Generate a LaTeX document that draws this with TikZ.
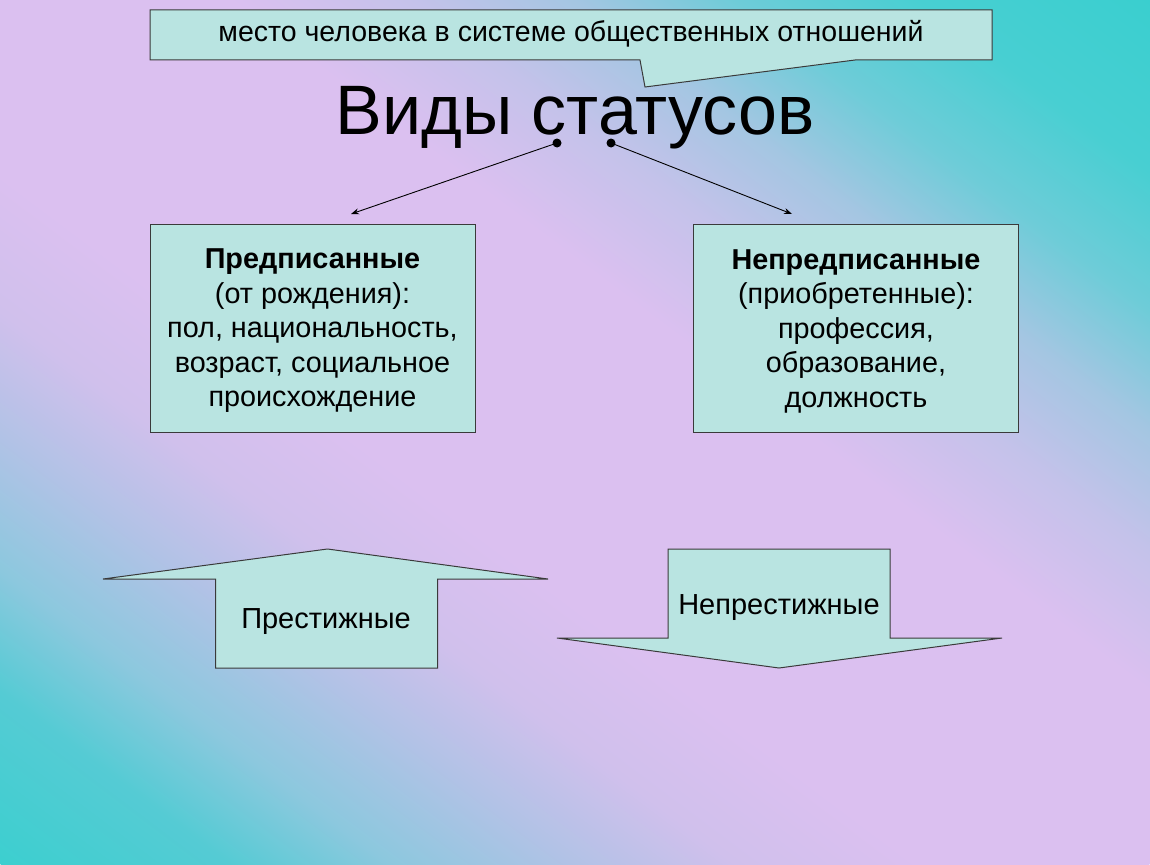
\documentclass[tikz,border=0pt]{standalone}
\usepackage{fontspec}
\setmainfont{Liberation Sans}
\usetikzlibrary{arrows.meta}
\definecolor{boxfill}{HTML}{B9E4E1}
\definecolor{edgecol}{HTML}{3A3A3A}
\definecolor{bga}{HTML}{3CCFCF}
\definecolor{bgb}{HTML}{55CBD4}
\definecolor{bgc}{HTML}{8CC8DE}
\definecolor{bgd}{HTML}{B2C2E6}
\definecolor{bge}{HTML}{D0C0EC}
\definecolor{bgf}{HTML}{DBC0F0}
\definecolor{bgg}{HTML}{C4C2EA}
\definecolor{bgh}{HTML}{A4C6E2}
\definecolor{bgi}{HTML}{6ECCD8}
\definecolor{bgj}{HTML}{48CFD2}
\definecolor{bgk}{HTML}{3ACFCF}
\pgfdeclarehorizontalshading{bgshade}{100bp}{color(0bp)=(bga); color(25bp)=(bga); color(30bp)=(bgb); color(33.5bp)=(bgc); color(37.5bp)=(bgd); color(41bp)=(bge); color(45bp)=(bgf); color(55bp)=(bgf); color(59bp)=(bgg); color(62.5bp)=(bgh); color(66bp)=(bgi); color(70bp)=(bgj); color(75bp)=(bgk); color(100bp)=(bgk)}
\tikzset{
  shapefill/.style={fill=boxfill, draw=edgecol, line width=1pt},
  statbox/.style={shapefill, rectangle, inner sep=0pt, minimum width=325, minimum height=208},
  bodytext/.style={font=\fontsize{28.8}{34.5}\selectfont, align=center, inner sep=0pt},
  labeltext/.style={anchor=base, inner sep=0pt, font=\fontsize{29}{34}\selectfont},
  conn/.style={line width=0.9pt, -{Stealth[length=8pt,width=6pt]}},
}
\begin{document}
\begin{tikzpicture}[x=1pt,y=-1pt]
\useasboundingbox (0,0) rectangle (1150,864);
\begin{scope}
  \clip (0,0) rectangle (1150,864);
  \begin{scope}[transform canvas={cm={11.5,8.64,11.5,-8.64,(-575pt,-432pt)}}]
    \shade[shading=bgshade] (0pt,0pt) rectangle (100pt,100pt);
  \end{scope}
\end{scope}

% callout
\draw[shapefill] (150,10) -- (992,10) -- (992,60) -- (855,60) -- (645,87) -- (640,60) -- (150,60) -- cycle;
\node[anchor=base, inner sep=0pt, font=\fontsize{28.5}{34}\selectfont] (callout) at (571,42) {место человека в системе общественных отношений};

% title
\node[anchor=base, inner sep=0pt, font=\fontsize{70}{84}\selectfont] (title) at (575,135) {Виды статусов};
\coordinate (d1) at (557,143);
\coordinate (d2) at (611,143);
\coordinate (e1) at (351,214);
\coordinate (e2) at (792,214);
\fill (d1) circle (4.5);
\fill (d2) circle (4.5);
\draw[conn] (d1) -- (e1);
\draw[conn] (d2) -- (e2);

% boxes
\node[statbox] (left) at (312.5,328) {};
\node[bodytext] (lefttext) at (312.5,331) {\textbf{Предписанные}\\(от рождения):\\пол, национальность,\\возраст, социальное\\происхождение};
\node[statbox] (right) at (856,328) {};
\node[bodytext] (righttext) at (856,331) {\textbf{Непредписанные}\\(приобретенные):\\профессия,\\образование,\\должность};

% block arrows
\draw[shapefill] (327.5,549) -- (548,579) -- (437.5,579) -- (437.5,668) -- (215.5,668) -- (215.5,579) -- (103,579) -- cycle;
\node[labeltext] (prest) at (326,628) {Престижные};
\draw[shapefill] (668,549) -- (890,549) -- (890,638) -- (1002,638) -- (779,668) -- (557,638) -- (668,638) -- cycle;
\node[labeltext] (neprest) at (779,614) {Непрестижные};
\end{tikzpicture}
\end{document}
